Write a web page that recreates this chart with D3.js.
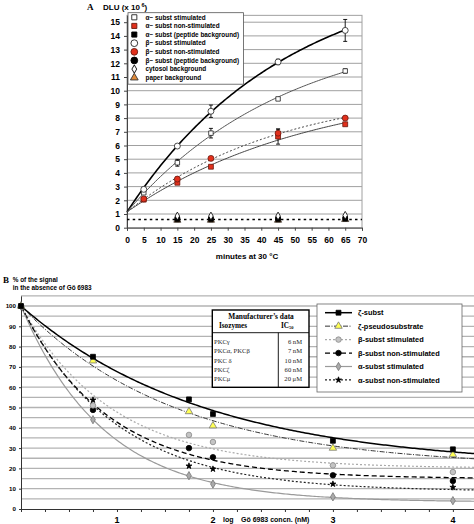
<!DOCTYPE html>
<html>
<head>
<meta charset="utf-8">
<script src="https://cdn.jsdelivr.net/npm/d3@7"></script>
<style>
  body { margin: 0; background: #fff; }
  text { font-family: "Liberation Sans", Arial, sans-serif; }
  .serif { font-family: "Liberation Serif", "Times New Roman", serif; }
</style>
</head>
<body>
<div id="chart"></div>
<script>
// ---- panel A data (DLU x 10^6 vs minutes) ----
const minutes = [5, 15, 25, 45, 65];
const alphaStimA = [2.55, 4.74, 6.9, 9.4, 11.44];
const alphaStimAErr = [0.1, 0.25, 0.35, 0.1, 0.15];
const alphaNonStimA = [2.05, 3.28, 4.45, 6.65, 7.55];
const alphaNonStimAErr = [0.1, 0.1, 0.1, 0.55, 0.1];
const betaStimA = [2.8, 5.96, 8.5, 12.1, 14.4];
const betaStimAErr = [0.15, 0.1, 0.45, 0.2, 0.8];
const betaNonStimA = [2.1, 3.55, 5.06, 6.9, 8.0];
const betaNonStimAErr = [0.1, 0.15, 0.1, 0.3, 0.1];
const startValueA = 1.15;

const bgMinutes = [15, 25, 45, 65];
const alphaPepBg = [0.6, 0.6, 0.6, 0.65];
const betaPepBg = [0.7, 0.7, 0.7, 0.7];
const cytosolBg = [0.85, 0.85, 0.85, 0.9];
const paperBg = [0.55, 0.55, 0.55, 0.6];
const bgLevel = 0.6;

const xTicksA = d3.range(0, 75, 5);
const yTicksA = d3.range(0, 16, 1);

const legendA = [
  "α− subst stimulated",
  "α− subst non-stimulated",
  "α− subst (peptide background)",
  "β− subst stimulated",
  "β− subst non-stimulated",
  "β− subst (peptide background)",
  "cytosol background",
  "paper background"
];

// ---- panel B data (% signal vs log Gö 6983 concn.) ----
const logConc = [0, 0.75, 1.75, 2, 3.25, 4.5];
const zetaSubst = [100, 75, 54, 46.8, 33.6, 29.4];
const zetaPseudo = [100, 73, 48, 41, 30, 26.8];
const betaStimB = [100, 51, 36.5, 33, 21.5, 18.2];
const betaNonStimB = [100, 48.8, 30, 25.5, 16.6, 13.8];
const alphaStimB = [100, 44, 16.4, 12.3, 6, 4.1];
const alphaNonStimB = [100, 53.7, 21.2, 19.7, 12.3, 10.7];

const xTickLabelsB = ["1", "2", "3", "4"];
const xTickPosB = [1, 2, 3.25, 4.5];
const legendB = [
  "ζ-subst",
  "ζ-pseudosubstrate",
  "β-subst stimulated",
  "β-subst non-stimulated",
  "α-subst stimulated",
  "α-subst non-stimulated"
];

const isozymes = ["PKCγ", "PKCα, PKCβ", "PKC δ", "PKCζ", "PKCμ"];
const ic50 = ["6 nM", "7 nM", "10 nM", "60 nM", "20 μM"];

const w = 474;
const h = 524;
const svg = d3.select("#chart").append("svg").attr("width", w).attr("height", h);

// exponential trendline y = c + (y0 - c) * exp(-k x), c by least squares for each k
function fitExp(xs, ys, y0) {
  let best = null;
  for (let i = 0; i <= 600; i++) {
    const k = Math.pow(10, -3.5 + i * 0.0075);
    let num = 0, den = 0;
    xs.forEach((x, j) => {
      const e = Math.exp(-k * x);
      num += (1 - e) * (ys[j] - y0 * e);
      den += (1 - e) * (1 - e);
    });
    const c = den ? num / den : y0;
    let sse = 0;
    xs.forEach((x, j) => {
      const f = c + (y0 - c) * Math.exp(-k * x);
      sse += (f - ys[j]) ** 2;
    });
    if (!best || sse < best.sse) best = { k, c, sse };
  }
  return x => best.c + (y0 - best.c) * Math.exp(-best.k * x);
}

// ================= PANEL A =================
const xA = d3.scaleLinear().domain([0, 70]).range([127, 362]);
const yA = d3.scaleLinear().domain([0, 15.5]).range([227.7, 15.35]);

const gA = svg.append("g");

// grid lines
gA.append("g")
  .selectAll("line")
  .data(yTicksA.filter(d => d > 0))
  .join("line")
  .attr("x1", xA(0)).attr("x2", xA(70))
  .attr("y1", d => yA(d)).attr("y2", d => yA(d))
  .attr("stroke", "#a0a0a0").attr("stroke-width", 1);

gA.append("rect")
  .attr("x", xA(0)).attr("y", yA(15.5))
  .attr("width", xA(70) - xA(0)).attr("height", yA(0) - yA(15.5))
  .attr("fill", "none").attr("stroke", "#a0a0a0");

// axes
gA.append("g")
  .attr("transform", `translate(0,${yA(0)})`)
  .call(d3.axisBottom(xA).tickValues(xTicksA).tickSize(3).tickPadding(6))
  .call(g => g.selectAll("text").attr("font-size", 8.5).attr("font-weight", "bold").attr("fill", "#000"))
  .call(g => g.selectAll("line,path").attr("stroke", "#444"));

gA.append("g")
  .attr("transform", `translate(${xA(0)},0)`)
  .call(d3.axisLeft(yA).tickValues(yTicksA).tickSize(3).tickPadding(4).tickSizeOuter(0))
  .call(g => g.selectAll("text").attr("font-size", 8.5).attr("font-weight", "bold").attr("fill", "#000"))
  .call(g => g.selectAll("line,path").attr("stroke", "#444"));

// background dotted line
gA.append("line")
  .attr("x1", xA(0)).attr("x2", xA(70))
  .attr("y1", yA(bgLevel)).attr("y2", yA(bgLevel))
  .attr("stroke", "#000").attr("stroke-width", 1.3).attr("stroke-dasharray", "2.5,3.2");

// fitted curves
const seriesA = [
  { v: betaStimA, err: betaStimAErr, color: "#000", width: 1.6, dash: null },
  { v: alphaStimA, err: alphaStimAErr, color: "#555", width: 1, dash: null },
  { v: alphaNonStimA, err: alphaNonStimAErr, color: "#444", width: 1, dash: null },
  { v: betaNonStimA, err: betaNonStimAErr, color: "#444", width: 1, dash: "2,2" }
];

seriesA.forEach(s => {
  const f = fitExp(minutes, s.v, startValueA);
  const pts = d3.range(0, 65.01, 0.5).map(t => [t, f(t)]);
  gA.append("path")
    .datum(pts)
    .attr("d", d3.line().x(d => xA(d[0])).y(d => yA(d[1])))
    .attr("fill", "none")
    .attr("stroke", s.color)
    .attr("stroke-width", s.width)
    .attr("stroke-dasharray", s.dash);
});

// error bars
seriesA.forEach(s => {
  const eg = gA.append("g").attr("stroke", "#000").attr("stroke-width", 0.9);
  minutes.forEach((t, i) => {
    const x = xA(t), y1 = yA(s.v[i] - s.err[i]), y2 = yA(s.v[i] + s.err[i]);
    eg.append("line").attr("x1", x).attr("x2", x).attr("y1", y1).attr("y2", y2);
    eg.append("line").attr("x1", x - 2).attr("x2", x + 2).attr("y1", y1).attr("y2", y1);
    eg.append("line").attr("x1", x - 2).attr("x2", x + 2).attr("y1", y2).attr("y2", y2);
  });
});

// marker helpers
const sym = (type, size) => d3.symbol().type(type).size(size)();
function markers(g, xs, ys, xs_, ys_, type, size, fill, stroke) {
  g.append("g")
    .selectAll("path")
    .data(xs.map((x, i) => [x, ys[i]]))
    .join("path")
    .attr("d", sym(type, size))
    .attr("transform", d => `translate(${xs_(d[0])},${ys_(d[1])})`)
    .attr("fill", fill)
    .attr("stroke", stroke)
    .attr("stroke-width", 0.8);
}

const red = "#e2301c";
const orange = "#e08a3a";

markers(gA, bgMinutes, paperBg, xA, yA, d3.symbolTriangle, 22, orange, "#333");
markers(gA, bgMinutes, betaPepBg, xA, yA, d3.symbolCircle, 20, "#000", "#000");
markers(gA, bgMinutes, alphaPepBg, xA, yA, d3.symbolSquare, 20, "#000", "#000");
markers(gA, bgMinutes, cytosolBg, xA, yA, d3.symbolDiamond, 18, "#fff", "#000");

markers(gA, minutes, alphaNonStimA, xA, yA, d3.symbolSquare, 24, red, "#6a1a10");
markers(gA, minutes, betaNonStimA, xA, yA, d3.symbolCircle, 28, red, "#6a1a10");
markers(gA, minutes, alphaStimA, xA, yA, d3.symbolSquare, 20, "#fff", "#222");
markers(gA, minutes, betaStimA, xA, yA, d3.symbolCircle, 28, "#fff", "#222");

// legend A
const legA = gA.append("g");
legA.append("rect")
  .attr("x", 128).attr("y", 12.7).attr("width", 115.5).attr("height", 71.5)
  .attr("fill", "#fff").attr("stroke", "#555").attr("stroke-width", 0.8);
const legAMarks = [
  [d3.symbolSquare, 26, "#fff", "#222"],
  [d3.symbolSquare, 26, red, "#6a1a10"],
  [d3.symbolSquare, 26, "#000", "#000"],
  [d3.symbolCircle, 36, "#fff", "#222"],
  [d3.symbolCircle, 36, red, "#6a1a10"],
  [d3.symbolCircle, 36, "#000", "#000"],
  [d3.symbolDiamond, 20, "#fff", "#000"],
  [d3.symbolTriangle, 26, orange, "#333"]
];
legendA.forEach((label, i) => {
  const y = 17.3 + i * 8.63;
  const m = legAMarks[i];
  legA.append("path")
    .attr("d", sym(m[0], m[1]))
    .attr("transform", `translate(134.3,${y})`)
    .attr("fill", m[2]).attr("stroke", m[3]).attr("stroke-width", 0.9);
  legA.append("text")
    .attr("x", 145.5).attr("y", y + 2.3)
    .attr("font-size", 6.4).attr("font-weight", "bold")
    .text(label);
});

// titles A
svg.append("text").attr("class", "serif").attr("x", 87).attr("y", 10)
  .attr("font-size", 9).attr("font-weight", "bold").text("A");
const dlu = svg.append("text").attr("x", 103).attr("y", 10)
  .attr("font-size", 8).attr("font-weight", "bold");
dlu.append("tspan").text("DLU (x 10");
dlu.append("tspan").attr("dy", -3.5).attr("font-size", 5.5).text(" 6");
dlu.append("tspan").attr("dy", 3.5).text(")");

svg.append("text").attr("x", 247).attr("y", 259)
  .attr("text-anchor", "middle").attr("font-size", 8).attr("font-weight", "bold")
  .text("minutes at 30 °C");

// ================= PANEL B =================
const xB = d3.scaleLinear().domain([0, 4.72]).range([21, 474]);
const yB = d3.scaleLinear().domain([0, 105]).range([509, 295.85]);
const gB = svg.append("g");

gB.append("g")
  .selectAll("line")
  .data(d3.range(5, 106, 5))
  .join("line")
  .attr("x1", xB(0)).attr("x2", xB(4.72))
  .attr("y1", d => yB(d)).attr("y2", d => yB(d))
  .attr("stroke", "#b3b3b3").attr("stroke-width", 1.3);

gB.append("g")
  .attr("transform", `translate(0,${yB(0)})`)
  .call(d3.axisBottom(xB).tickValues(d3.range(0, 4.76, 0.25)).tickSize(3).tickFormat(""))
  .call(g => g.selectAll("line,path").attr("stroke", "#333"));

gB.append("g")
  .attr("transform", `translate(${xB(0)},0)`)
  .call(d3.axisLeft(yB).tickValues(d3.range(0, 101, 10)).tickSize(2).tickPadding(3).tickSizeOuter(0))
  .call(g => g.selectAll("text").attr("font-size", 6.2).attr("font-weight", "bold").attr("fill", "#000"))
  .call(g => g.selectAll("line,path").attr("stroke", "#333"));

gB.append("g")
  .selectAll("text")
  .data(xTickLabelsB)
  .join("text")
  .attr("x", (d, i) => xB(xTickPosB[i]))
  .attr("y", 523)
  .attr("text-anchor", "middle")
  .attr("font-size", 9).attr("font-weight", "bold")
  .text(d => d);

gB.append("text").attr("x", 223).attr("y", 522)
  .attr("font-size", 7).attr("font-weight", "bold").text("log");
gB.append("text").attr("x", 241).attr("y", 522)
  .attr("font-size", 7).attr("font-weight", "bold").text("Gö 6983 concn. (nM)");

// titles B
svg.append("text").attr("class", "serif").attr("x", 3).attr("y", 283)
  .attr("font-size", 9).attr("font-weight", "bold").text("B");
svg.append("text").attr("x", 12.7).attr("y", 281.5)
  .attr("font-size", 6.4).attr("font-weight", "bold").text("% of the signal");
svg.append("text").attr("x", 12.7).attr("y", 289.8)
  .attr("font-size", 6.4).attr("font-weight", "bold").text("in the absence of Gö 6983");

const seriesB = [
  { v: zetaSubst, color: "#000", width: 1.5, dash: null, m: [d3.symbolSquare, 24, "#000", "#000"] },
  { v: zetaPseudo, color: "#333", width: 1, dash: "5,1.5,1,1.5", m: [d3.symbolTriangle, 24, "#ffff55", "#777"] },
  { v: betaStimB, color: "#aaa", width: 1.2, dash: "2,2", m: [d3.symbolCircle, 24, "#c4c4c4", "#888"] },
  { v: betaNonStimB, color: "#000", width: 1.3, dash: "5,3", m: [d3.symbolCircle, 24, "#000", "#000"] },
  { v: alphaStimB, color: "#9a9a9a", width: 1.2, dash: null, m: [d3.symbolDiamond, 20, "#aaa", "#777"] },
  { v: alphaNonStimB, color: "#222", width: 1.2, dash: "2,2", m: [d3.symbolStar, 11, "#000", "#000"] }
];

seriesB.forEach(s => {
  const f = fitExp(logConc, s.v, 100);
  const pts = d3.range(0, 4.721, 0.02).map(x => [x, f(x)]);
  gB.append("path")
    .datum(pts)
    .attr("d", d3.line().x(d => xB(d[0])).y(d => yB(d[1])))
    .attr("fill", "none")
    .attr("stroke", s.color)
    .attr("stroke-width", s.width)
    .attr("stroke-dasharray", s.dash);
});

seriesB.slice().reverse().forEach(s => {
  markers(gB, logConc, s.v, xB, yB, s.m[0], s.m[1], s.m[2], s.m[3]);
});

// table of manufacturer's data
const tb = gB.append("g");
tb.append("rect").attr("x", 212.3).attr("y", 310).attr("width", 96.7).attr("height", 77.3)
  .attr("fill", "#fff").attr("stroke", "#000").attr("stroke-width", 1.4);
tb.append("line").attr("x1", 212.3).attr("x2", 309).attr("y1", 332.7).attr("y2", 332.7)
  .attr("stroke", "#000").attr("stroke-width", 0.9);
tb.append("line").attr("x1", 278.3).attr("x2", 278.3).attr("y1", 332.7).attr("y2", 387.3)
  .attr("stroke", "#000").attr("stroke-width", 0.9);
tb.append("text").attr("class", "serif").attr("x", 261).attr("y", 318.5)
  .attr("text-anchor", "middle").attr("font-size", 7.4).attr("font-weight", "bold")
  .text("Manufacturer’s data");
tb.append("text").attr("class", "serif").attr("x", 219).attr("y", 327.8)
  .attr("font-size", 7.2).attr("font-weight", "bold").text("Isozymes");
const ic = tb.append("text").attr("class", "serif").attr("x", 281).attr("y", 327.8)
  .attr("font-size", 7.2).attr("font-weight", "bold");
ic.append("tspan").text("IC");
ic.append("tspan").attr("dy", 1.5).attr("font-size", 4.5).text("50");

isozymes.forEach((d, i) => {
  const y = 344 + i * 9.25;
  tb.append("text").attr("class", "serif").attr("x", 214).attr("y", y)
    .attr("font-size", 6.6).attr("fill", "#222").text(d);
  tb.append("text").attr("class", "serif").attr("x", 302).attr("y", y)
    .attr("text-anchor", "end").attr("font-size", 6.6).attr("fill", "#222").text(ic50[i]);
});

// legend B
const legB = gB.append("g");
legB.append("rect").attr("x", 317).attr("y", 304).attr("width", 145).attr("height", 88)
  .attr("fill", "#fff").attr("stroke", "#666").attr("stroke-width", 0.8);
legendB.forEach((label, i) => {
  const y = 312.7 + i * 13.45;
  const s = seriesB[i];
  legB.append("line").attr("x1", 325).attr("x2", 352).attr("y1", y).attr("y2", y)
    .attr("stroke", s.color).attr("stroke-width", s.width).attr("stroke-dasharray", s.dash);
  legB.append("path").attr("d", sym(s.m[0], s.m[1]))
    .attr("transform", `translate(338.5,${y})`)
    .attr("fill", s.m[2]).attr("stroke", s.m[3]).attr("stroke-width", 0.8);
  legB.append("text").attr("x", 358).attr("y", y + 2.6)
    .attr("font-size", 7.4).attr("font-weight", "bold").text(label);
});
</script>
</body>
</html>
